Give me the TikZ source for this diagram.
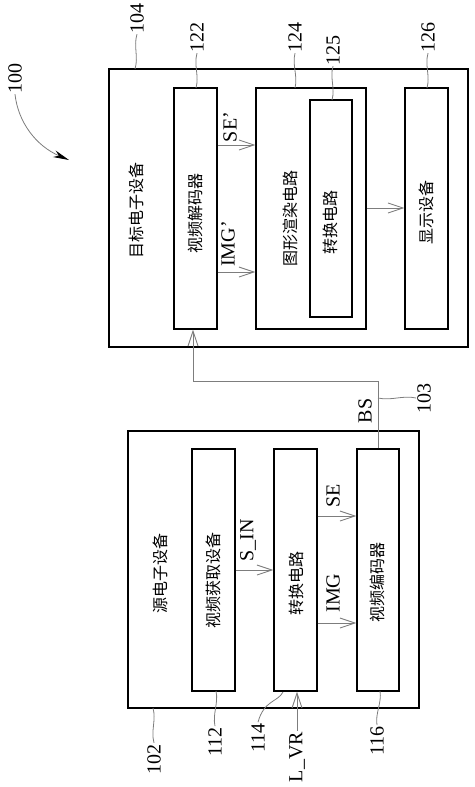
\documentclass[tikz,border=0pt]{standalone}
\usepackage{fontspec}
\setmainfont{Liberation Serif}
\newfontfamily\cjk{Noto Sans CJK SC}
\usetikzlibrary{arrows.meta,calc}
\definecolor{ln}{RGB}{125,125,125}
\newcommand\wave[4]{\draw[lead] (#1) .. controls ($(#1)!0.35!(#2)+(#3,#4)$) and ($(#1)!0.65!(#2)-(#3,#4)$) .. (#2);}
\begin{document}
\begin{tikzpicture}[x=1pt,y=-1pt,
  box/.style={draw=black,line width=1.3pt,inner sep=0pt},
  cn/.style={font=\cjk\fontsize{16}{16}\selectfont,rotate=90,inner sep=1pt},
  lab/.style={font=\fontsize{20}{20}\selectfont,rotate=90,inner sep=1pt},
  sig/.style={draw=ln,line width=0.9pt,-{Straight Barb[length=15pt,width=10pt]}},
  lead/.style={draw=ln,line width=0.8pt}]
\useasboundingbox (0,0) rectangle (474,787);
% ---------- target device ----------
\node[box,minimum width=359pt,minimum height=278pt] (b104) at (288.5,208) {};
\node[box,minimum width=43pt,minimum height=241pt] (b122) at (195.5,208.5) {};
\node[box,minimum width=110pt,minimum height=241pt] (b124) at (311,208.5) {};
\node[box,minimum width=42pt,minimum height=217pt] (b125) at (331,208.5) {};
\node[box,minimum width=43pt,minimum height=241pt] (b126) at (426.5,208.5) {};
\node[cn] (t104) at (136,210) {目标电子设备};
\node[cn] (t122) at (195,213) {视频解码器};
\node[cn] (t124) at (290,218) {图形渲染电路};
\node[cn] (t125) at (330,222) {转换电路};
\node[cn] (t126) at (426,212) {显示设备};
% ---------- source device ----------
\node[box,minimum width=291pt,minimum height=277pt] (b102) at (273.5,569.5) {};
\node[box,minimum width=43pt,minimum height=242pt] (b112) at (213.5,570) {};
\node[box,minimum width=43pt,minimum height=242pt] (b114) at (295.5,570) {};
\node[box,minimum width=42pt,minimum height=242pt] (b116) at (378,570) {};
\node[cn] (t102) at (160,573) {源电子设备};
\node[cn] (t112) at (213,580) {视频获取设备};
\node[cn] (t114) at (296,583) {转换电路};
\node[cn] (t116) at (377,582) {视频编码器};
% ---------- signal arrows ----------
\coordinate (ySEp) at (0,145);
\coordinate (yIMGp) at (0,272);
\coordinate (yDisp) at (0,208);
\coordinate (ySIN) at (0,570);
\coordinate (ySE) at (0,516);
\coordinate (yIMG) at (0,623);
\draw[sig] (b122.east |- ySEp) -- (b124.west |- ySEp);
\draw[sig] (b122.east |- yIMGp) -- (b124.west |- yIMGp);
\draw[sig] (b124.east |- yDisp) -- (b126.west |- yDisp);
\draw[sig] (b112.east |- ySIN) -- (b114.west |- ySIN);
\draw[sig] (b114.east |- ySE) -- (b116.west |- ySE);
\draw[sig] (b114.east |- yIMG) -- (b116.west |- yIMG);
\node[lab] (sSEp) at (230,127) {SE'};
\node[lab] (sIMGp) at (228,244) {IMG'};
\node[lab] (sSIN) at (248,540) {S\_IN};
\node[lab] (sSE) at (333,496) {SE};
\node[lab] (sIMG) at (333,593) {IMG};
% ---------- bit stream ----------
\coordinate (bsturn) at (193,381);
\draw[sig] (b116.north) |- (bsturn) -- (bsturn |- b122.south);
\node[lab] (sBS) at (365,411) {BS};
% ---------- L_VR ----------
\node[lab] (sLVR) at (297,757) {L\_VR};
\draw[sig] (sLVR.east) -- (sLVR.east |- b114.south);
% ---------- reference numerals ----------
\node[lab] (l100) at (15,78) {100};
\node[lab] (l104) at (137,18) {104};
\node[lab] (l122) at (197,37) {122};
\node[lab] (l124) at (295,37) {124};
\node[lab] (l125) at (333,50) {125};
\node[lab] (l126) at (428,37) {126};
\node[lab] (l103) at (424,398) {103};
\node[lab] (l102) at (154,759) {102};
\node[lab] (l112) at (215,742) {112};
\node[lab] (l114) at (258,738) {114};
\node[lab] (l116) at (377,741) {116};
\coordinate (a104) at (135,69);
\coordinate (a122) at (196,88);
\coordinate (a124) at (295,88);
\coordinate (a125) at (332,100);
\coordinate (a126) at (427,88);
\coordinate (a103) at (378,398);
\coordinate (a102) at (153,708);
\coordinate (a112) at (216,691);
\coordinate (a114) at (283,692);
\coordinate (a116) at (380,691);
\wave{a104}{l104.west}{3}{0}
\wave{a122}{l122.west}{3}{0}
\wave{a124}{l124.west}{3}{0}
\wave{a125}{l125.west}{3}{0}
\wave{a126}{l126.west}{3}{0}
\wave{a103}{l103.north}{0}{3}
\wave{a102}{l102.east}{3}{0}
\wave{a112}{l112.east}{3}{0}
\wave{a116}{l116.east}{3}{0}
\draw[lead] (a114) .. controls (278,702) and (264,700) .. (l114.east);
% ---------- system arrow ----------
\coordinate (tip100) at (69,160);
\draw[draw=ln,line width=0.8pt,-{Stealth[length=16pt,width=7pt,black]}] (l100.west) .. controls (18,122) and (36,146) .. (tip100);
\end{tikzpicture}
\end{document}
